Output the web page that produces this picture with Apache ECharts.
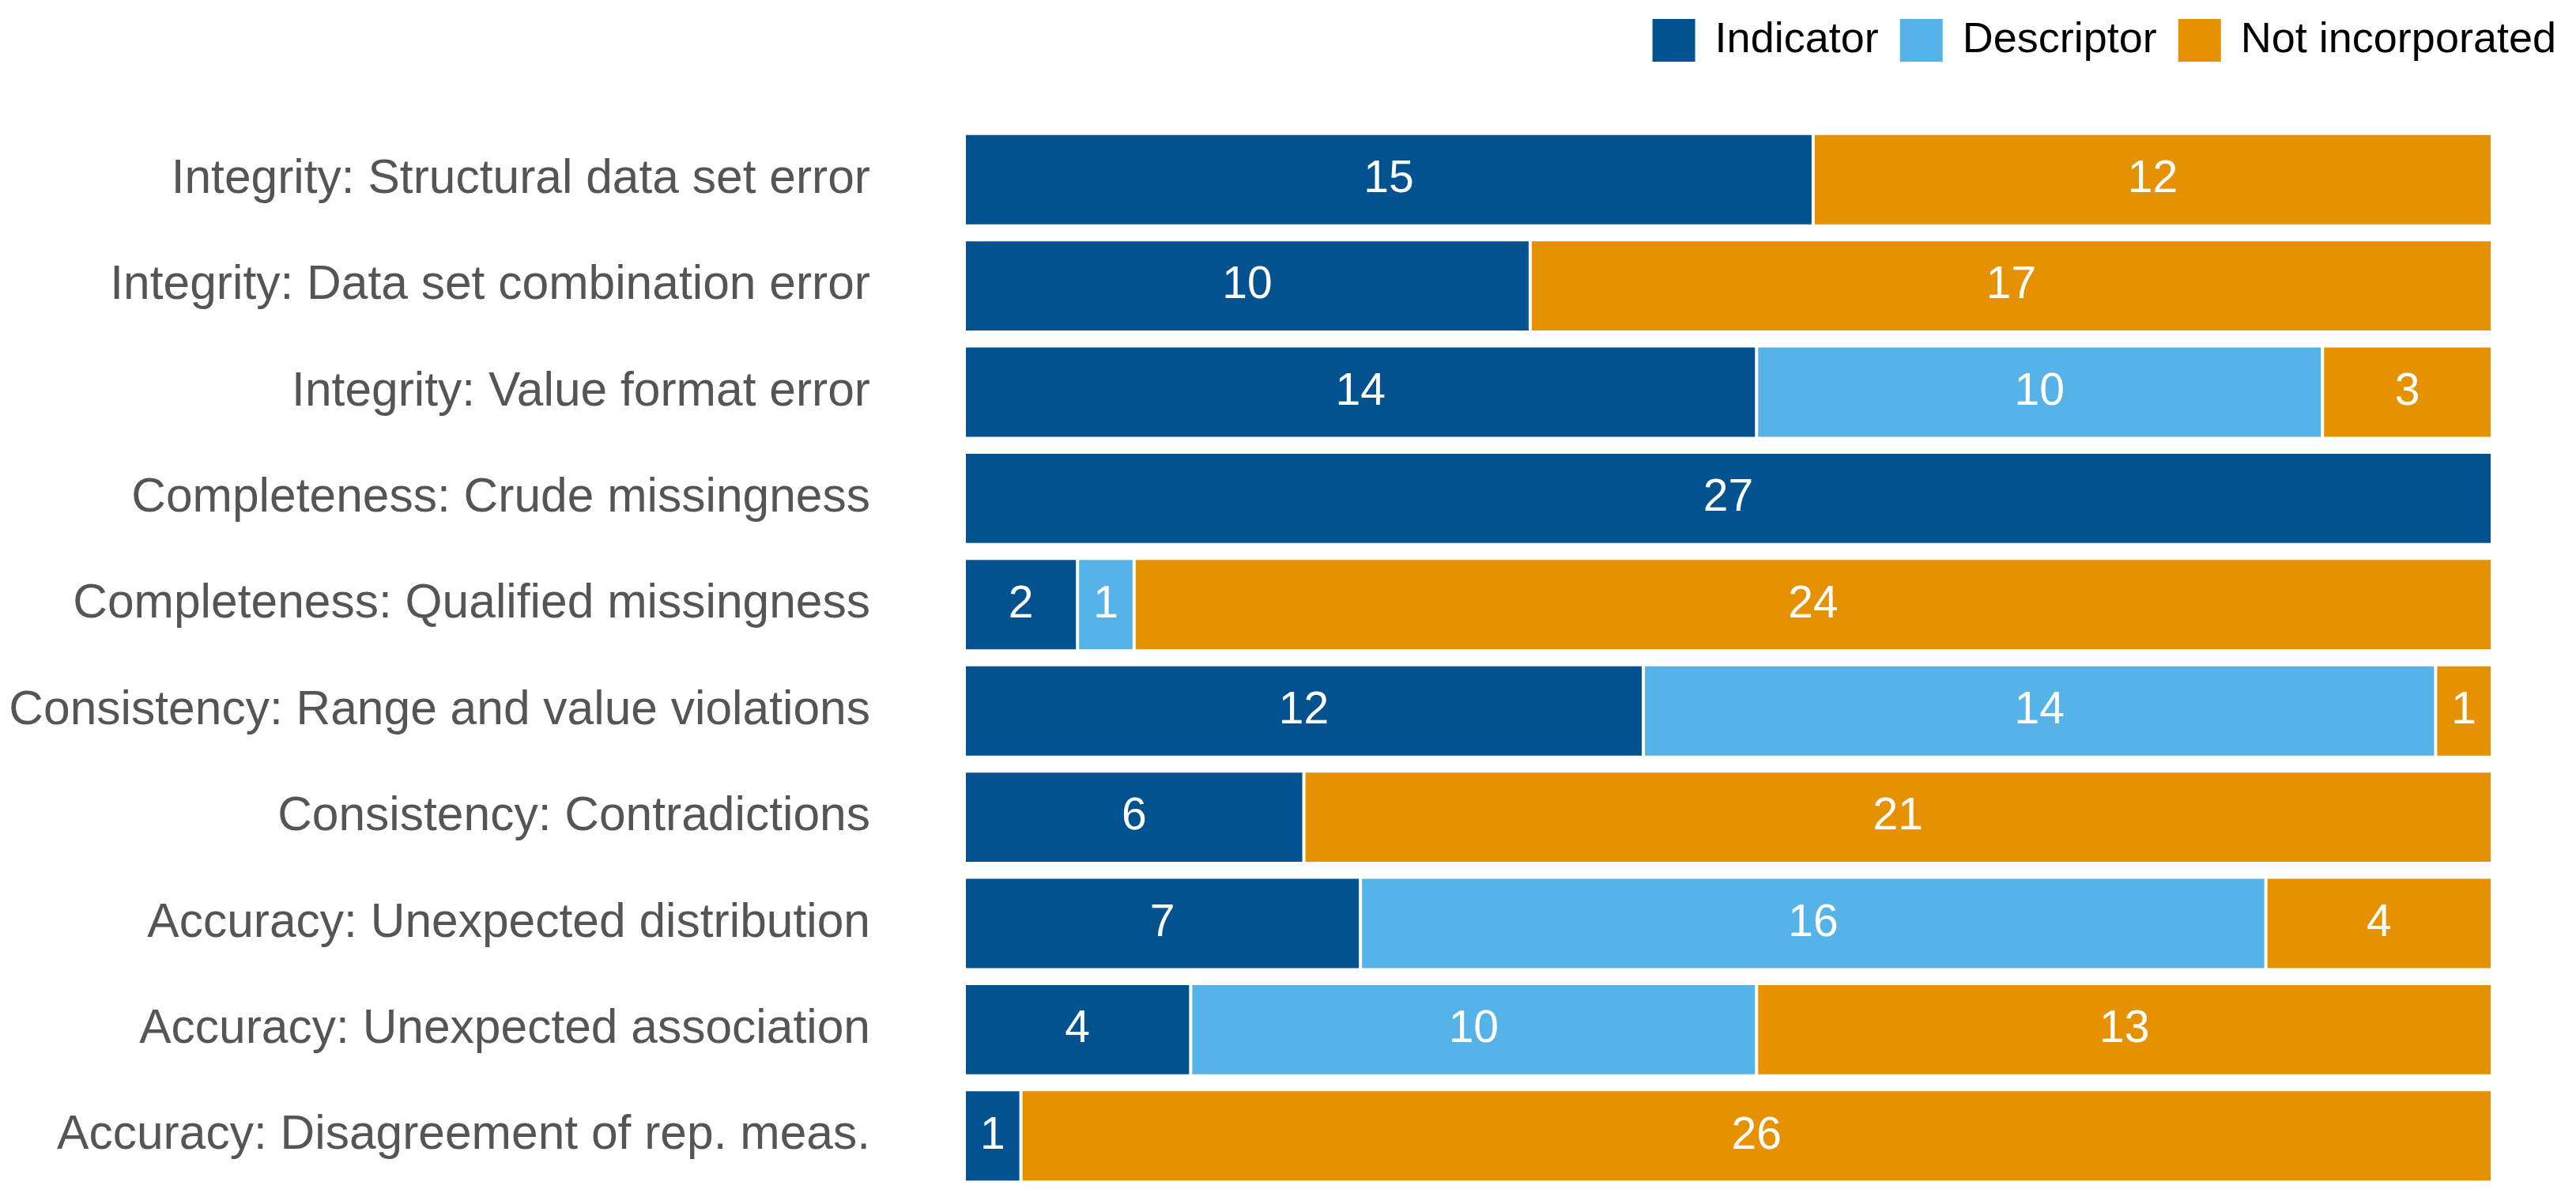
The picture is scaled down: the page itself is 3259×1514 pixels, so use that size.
<!DOCTYPE html>
<html>
<head>
<meta charset="utf-8">
<script src="https://cdn.jsdelivr.net/npm/echarts@6/dist/echarts.min.js"></script>
<style>
html,body{margin:0;padding:0;background:#fff;}
#chart{width:3259px;height:1514px;}
</style>
</head>
<body>
<div id="chart"></div>
<script>
const categories = [
  "Integrity: Structural data set error",
  "Integrity: Data set combination error",
  "Integrity: Value format error",
  "Completeness: Crude missingness",
  "Completeness: Qualified missingness",
  "Consistency: Range and value violations",
  "Consistency: Contradictions",
  "Accuracy: Unexpected distribution",
  "Accuracy: Unexpected association",
  "Accuracy: Disagreement of rep. meas."
];
const indicator = [15, 10, 14, 27, 2, 12, 6, 7, 4, 1];
const descriptor = [0, 0, 10, 0, 1, 14, 0, 16, 10, 0];
const notIncorporated = [12, 17, 3, 0, 24, 1, 21, 4, 13, 26];
const seriesNames = ["Indicator", "Descriptor", "Not incorporated"];
const colors = ["#02528F", "#56B3E7", "#E69100"];

const chart = echarts.init(document.getElementById('chart'));
const mk = (name, data, color) => ({
  name: name,
  type: 'bar',
  stack: 'total',
  data: data,
  barCategoryGap: '13%',
  itemStyle: { color: color, borderColor: '#ffffff', borderWidth: 2 },
  label: {
    show: true,
    position: 'inside',
    color: '#ffffff',
    fontSize: 57,
    fontFamily: 'Liberation Sans, Arial, sans-serif',
    formatter: p => (p.value ? String(p.value) : '')
  },
  emphasis: { disabled: true }
});
chart.setOption({
  animation: false,
  color: colors,
  legend: {
    data: seriesNames,
    right: 20,
    top: 17,
    itemWidth: 56,
    itemHeight: 56,
    itemGap: 25,
    icon: 'rect',
    textStyle: {
      fontSize: 54,
      color: '#000000',
      fontFamily: 'Liberation Sans, Arial, sans-serif',
      padding: [0, 0, 0, 19]
    }
  },
  grid: { left: 1220, right: 106, top: 160, bottom: 10, containLabel: false },
  xAxis: {
    type: 'value',
    min: 0,
    max: 27,
    show: false
  },
  yAxis: {
    type: 'category',
    data: categories,
    inverse: true,
    axisLine: { show: false },
    axisTick: { show: false },
    splitLine: { show: false },
    axisLabel: {
      fontSize: 60.5,
      color: '#555555',
      margin: 119,
      fontFamily: 'Liberation Sans, Arial, sans-serif'
    }
  },
  series: [
    mk(seriesNames[0], indicator, colors[0]),
    mk(seriesNames[1], descriptor, colors[1]),
    mk(seriesNames[2], notIncorporated, colors[2])
  ]
});
</script>
</body>
</html>
